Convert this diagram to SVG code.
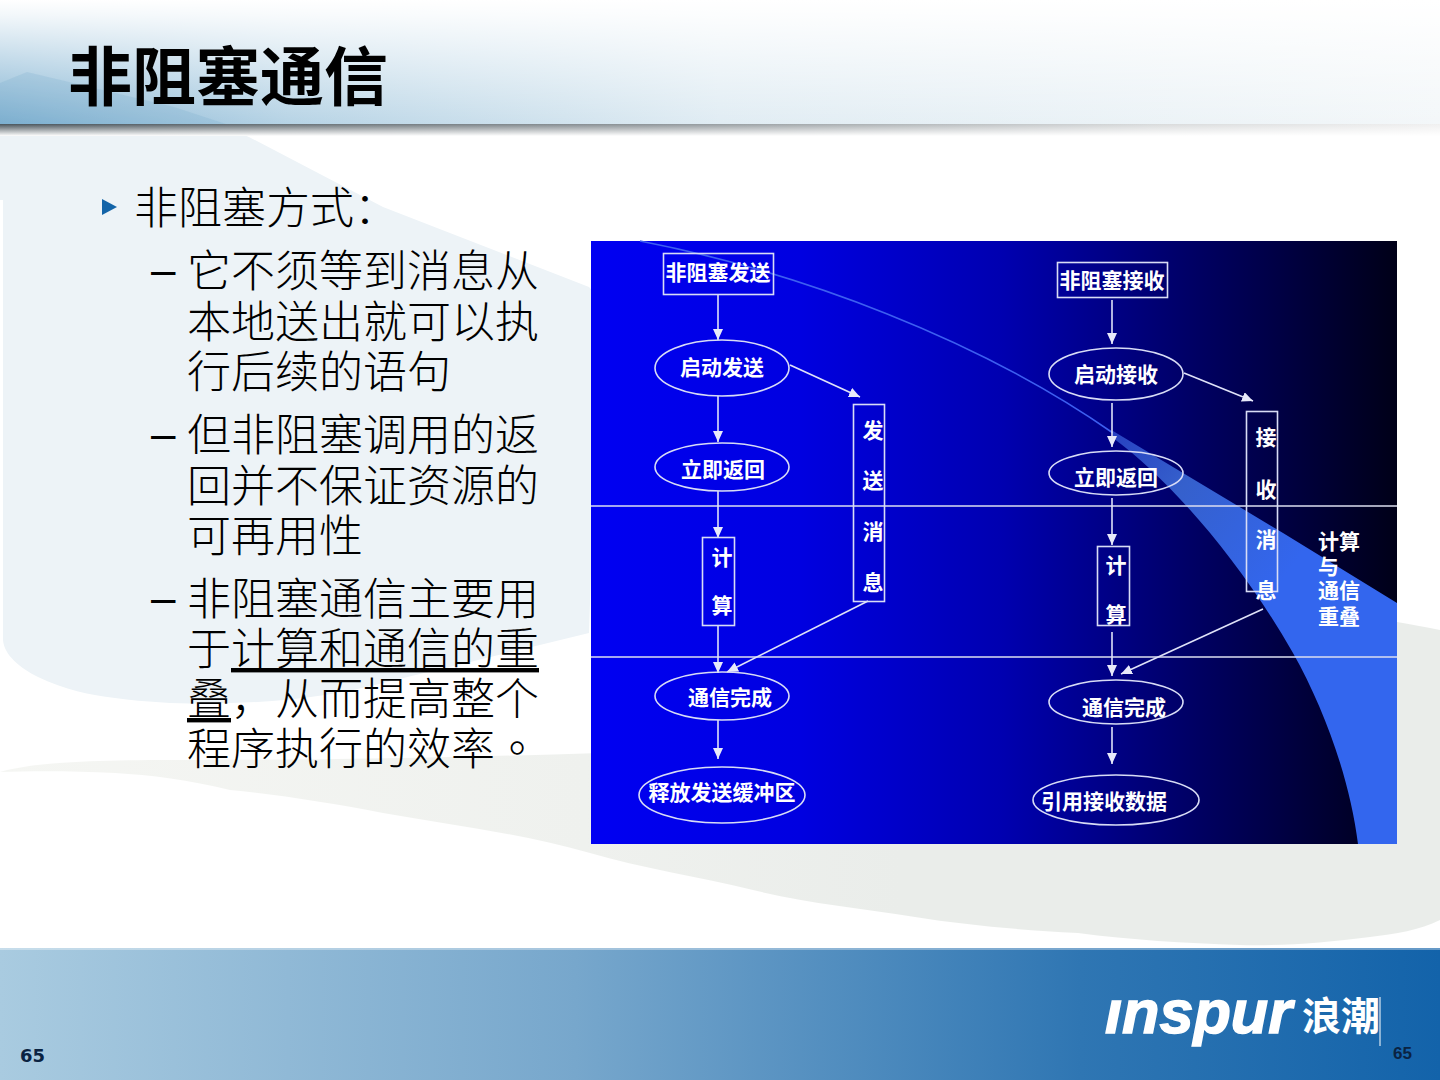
<svg xmlns="http://www.w3.org/2000/svg" width="1440" height="1080" viewBox="0 0 1440 1080">
<style>
.cjk{font-family:"Noto Sans CJK SC","Noto Sans",sans-serif}
.title{font-size:64px;font-weight:700;fill:#000}
.body{font-size:44px;font-weight:300;fill:#000}
.dash{font-family:"Liberation Sans",sans-serif;font-size:44px;font-weight:400;fill:#000}
.box{fill:none;stroke:#d8dcf6;stroke-width:1.6}
.lbl{font-size:21px;font-weight:700;fill:#fff;text-anchor:middle;dominant-baseline:central}
.lbll{font-size:21px;font-weight:700;fill:#fff;dominant-baseline:central}
.conn{fill:none;stroke:#dfe2f8;stroke-width:1.6;marker-end:url(#ah)}
.rule{stroke:#dcdff0;stroke-width:1.5}
.num{font-weight:700;fill:#0a2342}
</style>
<defs>
<marker id="ah" markerUnits="userSpaceOnUse" markerWidth="12" markerHeight="12" refX="11" refY="5" orient="auto"><path d="M0 0L11 5L0 10Z" fill="#e8eafa"/></marker>
<linearGradient id="hdH" x1="0" x2="1" y1="0" y2="0"><stop offset="0" stop-color="#7fb1d1"/><stop offset=".2" stop-color="#b6d3e5"/><stop offset=".5" stop-color="#e0ecf3"/><stop offset="1" stop-color="#f3f7f9"/></linearGradient>
<linearGradient id="hdV" x1="0" x2="0" y1="0" y2="1"><stop offset="0" stop-color="#fff"/><stop offset=".12" stop-color="#fff" stop-opacity=".9"/><stop offset="1" stop-color="#fff" stop-opacity="0"/></linearGradient>
<linearGradient id="shd" x1="0" x2="1" y1="0" y2="0"><stop offset="0" stop-color="#4a555c"/><stop offset=".45" stop-color="#8d9498"/><stop offset=".8" stop-color="#d8dadb"/><stop offset="1" stop-color="#f0f0f0"/></linearGradient>
<linearGradient id="shdV" x1="0" x2="0" y1="0" y2="1"><stop offset="0" stop-color="#fff" stop-opacity="0"/><stop offset="1" stop-color="#fff"/></linearGradient>
<linearGradient id="ft" x1="0" x2="1" y1="0" y2="0"><stop offset="0" stop-color="#a9cbe0"/><stop offset=".4" stop-color="#77a7cc"/><stop offset=".75" stop-color="#2f76b3"/><stop offset="1" stop-color="#1363aa"/></linearGradient>
<linearGradient id="gry" gradientUnits="userSpaceOnUse" x1="0" x2="900" y1="0" y2="0"><stop offset="0" stop-color="#f5f6f3"/><stop offset=".65" stop-color="#eff1ee"/><stop offset="1" stop-color="#eaedea"/></linearGradient>
<linearGradient id="pan" gradientUnits="userSpaceOnUse" x1="591" x2="1397" y1="0" y2="0"><stop offset="0" stop-color="#0000f2"/><stop offset=".26" stop-color="#0000e0"/><stop offset=".51" stop-color="#0000b0"/><stop offset=".76" stop-color="#000060"/><stop offset="1" stop-color="#000018"/></linearGradient>
<linearGradient id="band" gradientUnits="userSpaceOnUse" x1="1110" y1="430" x2="1290" y2="570"><stop offset="0" stop-color="#2740c0"/><stop offset=".4" stop-color="#3560cc"/><stop offset="1" stop-color="#3366ee"/></linearGradient>
<clipPath id="logoClip"><rect x="1095" y="999" width="205" height="50"/></clipPath>
</defs>

<g id="background">
<rect width="1440" height="1080" fill="#fff"/>
<path d="M0 200L3 200L3 640C4 655 20 668 38 677C65 690 90 695 115 698C160 704 195 704 230 703C290 702 340 694 383 683C420 674 450 667 478 660L589 633L600 300L589 287L383 207L249 137L220 125L0 125Z" fill="#edf3f7"/>
<path d="M0 772C40 760 120 760 200 760C350 760 470 757 600 753L600 600L1397 600L1397 622C1410 624 1425 627 1440 630L1440 920C1420 930 1395 934 1370 937C1325 943 1280 946 1240 945C1185 943 1130 940 1078 933C1020 930 965 925 915 917C860 908 805 903 753 890C700 877 640 868 590 853C520 833 450 825 383 813C330 803 280 795 230 790C190 780 150 775 115 773C75 771 35 771 0 772Z" fill="url(#gry)"/>
</g>

<g id="header">
<rect width="1440" height="125" fill="url(#hdH)"/>
<rect width="1440" height="125" fill="url(#hdV)"/>
<path d="M0 83L27 72L174 107L229 125L0 125Z" fill="#6fa5c8" opacity=".2"/>
<rect y="124" width="1440" height="12" fill="url(#shd)"/>
<rect y="124" width="1440" height="12" fill="url(#shdV)"/>
<text class="cjk title" x="68" y="100">非阻塞通信</text>
</g>

<g id="footer">
<rect y="948" width="1440" height="132" fill="url(#ft)"/>
<rect y="948" width="1440" height="2" fill="#fff" opacity=".35"/>
<text class="num" x="20" y="1062" style="font-family:'DejaVu Sans',sans-serif;font-size:18px">65</text>
<text class="num" x="1393" y="1059" style="font-family:'Liberation Sans',sans-serif;font-size:17px">65</text>
<g id="logo">
<text x="1105" y="1033" textLength="187" lengthAdjust="spacingAndGlyphs" clip-path="url(#logoClip)" style="font-family:'Liberation Sans',sans-serif;font-size:62px;font-weight:700;font-style:italic;fill:#fff;stroke:#fff;stroke-width:1.5">inspur</text>
<text class="cjk" x="1302" y="1030" style="font-size:39px;font-weight:700;fill:#fff">浪潮</text>
<rect x="1379.500" y="997" width="1" height="49" fill="#fff"/>
</g>
</g>

<g id="bullets">
<path d="M102 199L117 207L102 215Z" fill="#1364a8"/>
<text class="cjk body" x="134" y="224">非阻塞方式：</text>
<text class="dash" x="151" y="285">–</text>
<text class="cjk body" x="187" y="287">它不须等到消息从</text>
<text class="cjk body" x="187" y="338">本地送出就可以执</text>
<text class="cjk body" x="187" y="388">行后续的语句</text>
<text class="dash" x="151" y="449">–</text>
<text class="cjk body" x="187" y="451">但非阻塞调用的返</text>
<text class="cjk body" x="187" y="502">回并不保证资源的</text>
<text class="cjk body" x="187" y="552">可再用性</text>
<text class="dash" x="151" y="613">–</text>
<text class="cjk body" x="187" y="615">非阻塞通信主要用</text>
<text class="cjk body" x="187" y="665">于<tspan text-decoration="underline">计算和通信的重</tspan></text>
<text class="cjk body" x="187" y="715"><tspan text-decoration="underline">叠</tspan>，从而提高整个</text>
<text class="cjk body" x="187" y="765">程序执行的效率<tspan style="font-family:'Noto Sans CJK TC',sans-serif">。</tspan></text>
</g>

<g id="panel">
<rect x="591" y="241" width="806" height="603" fill="url(#pan)"/>
<path d="M640 241C800 272 980 340 1113 433" fill="none" stroke="#3d5ff0" stroke-width="1.6"/>
<path d="M1113 431L1283 533L1397 603L1397 844L1358 844C1350 780 1325 710 1293 653C1240 560 1170 480 1113 438Z" fill="url(#band)"/>
<line class="rule" x1="591" y1="506" x2="1397" y2="506"/>
<line class="rule" x1="591" y1="657" x2="1397" y2="657"/>
</g>

<g id="connectors">
<path class="conn" d="M718 294V340"/>
<path class="conn" d="M718 396V442"/>
<path class="conn" d="M718 491V538"/>
<path class="conn" d="M718 625V673"/>
<path class="conn" d="M718 720V759"/>
<path class="conn" d="M790 365L860 397"/>
<path class="conn" d="M868 601L727 672"/>
<path class="conn" d="M1112 300V344"/>
<path class="conn" d="M1112 403V447"/>
<path class="conn" d="M1112 498V545"/>
<path class="conn" d="M1112 632V676"/>
<path class="conn" d="M1112 727V764"/>
<path class="conn" d="M1184 373L1253 401"/>
<path class="conn" d="M1263 609L1121 674"/>
</g>

<g id="n-send-start"><rect class="box" x="663.500" y="253.500" width="110" height="41"/><text class="cjk lbl" x="718" y="271">非阻塞发送</text></g>
<g id="n-send-launch"><ellipse class="box" cx="722" cy="368" rx="67" ry="28"/><text class="cjk lbl" x="722" y="366">启动发送</text></g>
<g id="n-send-return"><ellipse class="box" cx="722" cy="467" rx="67" ry="24"/><text class="cjk lbl" x="723" y="468">立即返回</text></g>
<g id="n-send-calc"><rect class="box" x="702.500" y="537.500" width="32" height="88"/><text class="cjk lbl" x="722" y="556">计</text><text class="cjk lbl" x="722" y="604">算</text></g>
<g id="n-send-msg"><rect class="box" x="853.500" y="404.500" width="31" height="197"/><text class="cjk lbl" x="873" y="429">发</text><text class="cjk lbl" x="873" y="479">送</text><text class="cjk lbl" x="873" y="530">消</text><text class="cjk lbl" x="873" y="581">息</text></g>
<g id="n-send-done"><ellipse class="box" cx="722" cy="696" rx="67" ry="24"/><text class="cjk lbl" x="730" y="696">通信完成</text></g>
<g id="n-send-free"><ellipse class="box" cx="722" cy="795" rx="83" ry="28"/><text class="cjk lbl" x="722" y="791">释放发送缓冲区</text></g>

<g id="n-recv-start"><rect class="box" x="1057.500" y="262.500" width="110" height="35"/><text class="cjk lbl" x="1112" y="279">非阻塞接收</text></g>
<g id="n-recv-launch"><ellipse class="box" cx="1116" cy="374" rx="67" ry="26"/><text class="cjk lbl" x="1116" y="373">启动接收</text></g>
<g id="n-recv-return"><ellipse class="box" cx="1116" cy="473" rx="67" ry="22"/><text class="cjk lbl" x="1116" y="476">立即返回</text></g>
<g id="n-recv-calc"><rect class="box" x="1097.500" y="546.500" width="32" height="79"/><text class="cjk lbl" x="1116" y="564">计</text><text class="cjk lbl" x="1116" y="613">算</text></g>
<g id="n-recv-msg"><rect class="box" x="1246.500" y="411.500" width="31" height="180"/><text class="cjk lbl" x="1266" y="436">接</text><text class="cjk lbl" x="1266" y="488">收</text><text class="cjk lbl" x="1266" y="538">消</text><text class="cjk lbl" x="1266" y="589">息</text></g>
<g id="n-recv-done"><ellipse class="box" cx="1116" cy="702" rx="67" ry="22"/><text class="cjk lbl" x="1124" y="706">通信完成</text></g>
<g id="n-recv-use"><ellipse class="box" cx="1116" cy="800" rx="83" ry="25"/><text class="cjk lbl" x="1104" y="800">引用接收数据</text></g>
<g id="n-overlap"><text class="cjk lbll" x="1318" y="540">计算</text><text class="cjk lbll" x="1318" y="565">与</text><text class="cjk lbll" x="1318" y="589">通信</text><text class="cjk lbll" x="1318" y="615">重叠</text></g>
</svg>
